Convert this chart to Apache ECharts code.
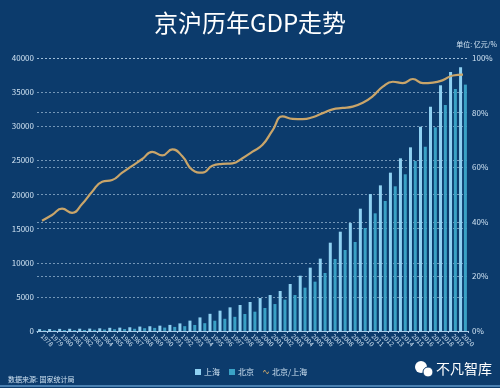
<!DOCTYPE html>
<html>
<head>
<meta charset="utf-8">
<script src="https://cdn.jsdelivr.net/npm/echarts@6/dist/echarts.min.js"></script>
<style>
html,body{margin:0;padding:0;background:#0c3b6c;}
#c{width:500px;height:388px;}
</style>
</head>
<body>
<div id="c"></div>
<script>
const years = [];
for (let y = 1978; y <= 2020; y++) years.push(String(y));

const shanghai = [273, 286, 312, 325, 337, 352, 391, 467, 491, 545, 648, 697, 782, 894, 1114, 1519, 1991, 2518, 2981, 3465,
  3810, 4250, 4830, 5270, 5860, 6890, 8100, 9280, 10600, 12940, 14550, 15820, 17920, 20070, 21340, 23200, 25300, 26910, 29930, 32860, 36000, 37950, 38650];
const beijing = [109, 120, 139, 139, 155, 183, 217, 257, 285, 327, 410, 456, 501, 599, 709, 886, 1145, 1508, 1789, 2077,
  2490, 2830, 3370, 3950, 4590, 5270, 6350, 7230, 8500, 10550, 11870, 13040, 15090, 17240, 19050, 21200, 22960, 24910, 27000, 29840, 33110, 35460, 36100];
const ratio = [40.4, 42.5, 44.8, 43.3, 46.5, 51.0, 54.7, 55.3, 58.0, 60.5, 63.0, 65.6, 64.3, 66.5, 64.0, 59.0, 58.0, 60.5, 61.2, 61.4,
  63.3, 65.7, 68.2, 73.5, 78.6, 77.7, 77.6, 78.3, 79.8, 81.2, 81.7, 82.2, 83.6, 86.0, 89.5, 91.3, 90.8, 92.3, 90.8, 91.0, 91.9, 93.6, 93.9];

const font = '"Noto Sans CJK SC", "Noto Sans", sans-serif';
const lblColor = '#cfe2f2';
const chart = echarts.init(document.getElementById('c'), null, {renderer: 'canvas'});
chart.setOption({
  backgroundColor: '#0c3b6c',
  animation: false,
  textStyle: {fontFamily: font},
  title: {
    text: '京沪历年GDP走势',
    left: 'center',
    top: 6,
    textStyle: {color: '#ffffff', fontSize: 24, fontWeight: 'normal', fontFamily: font}
  },
  legend: {
    left: 190,
    top: 363,
    itemWidth: 6,
    itemHeight: 6,
    itemGap: 9,
    textStyle: {color: lblColor, fontSize: 8, fontFamily: font, padding: [0, 0, 0, -2]},
    data: [
      {name: '上海', icon: 'rect'},
      {name: '北京', icon: 'rect'},
      {name: '北京/上海', icon: 'path://M0,6 C3,0 6,0 8,5 C10,10 13,10 16,4 L16,7 C13,13 10,13 8,8 C6,3 3,3 0,9 Z', itemStyle: {color: '#c9a56a'}}
    ]
  },
  grid: {left: 37, right: 32, top: 58, bottom: 57},
  xAxis: {
    type: 'category',
    data: years,
    axisLine: {lineStyle: {color: '#a9cbe6', width: 1}},
    axisTick: {show: true, interval: 0, length: 2, lineStyle: {color: '#a9cbe6'}},
    axisLabel: {interval: 0, rotate: -45, color: lblColor, fontSize: 6.5, margin: 4, fontFamily: font}
  },
  yAxis: [
    {
      type: 'value', min: 0, max: 40000, interval: 5000,
      axisLine: {show: false}, axisTick: {show: false},
      axisLabel: {color: lblColor, fontSize: 8, margin: 3, fontFamily: font, formatter: function (v) { return String(v); }},
      splitLine: {lineStyle: {color: 'rgba(200,225,245,0.55)', type: [2, 2], width: 1}}
    },
    {
      type: 'value', min: 0, max: 100, interval: 20,
      axisLine: {show: false}, axisTick: {show: false},
      axisLabel: {color: lblColor, fontSize: 8, margin: 4, formatter: '{value}%', fontFamily: font},
      splitLine: {lineStyle: {color: 'rgba(200,225,245,0.55)', type: [2, 2], width: 1}}
    }
  ],
  series: [
    {name: '上海', type: 'bar', data: shanghai, barWidth: 3, barGap: '60%', itemStyle: {color: '#8fd1f2'}},
    {name: '北京', type: 'bar', data: beijing, barWidth: 3, itemStyle: {color: '#3aa2c6'}},
    {name: '北京/上海', type: 'line', yAxisIndex: 1, data: ratio, smooth: true, showSymbol: false,
     lineStyle: {color: '#c9a56a', width: 2.2}, itemStyle: {color: '#c9a56a'}, z: 5}
  ],
  graphic: [
    {type: 'text', right: 3, top: 41, style: {text: '单位: 亿元/%', fill: lblColor, font: '7px ' + font}},
    {type: 'text', left: 8, top: 376, style: {text: '数据来源: 国家统计局', fill: lblColor, font: '7px ' + font}},
    {type: 'line', shape: {x1: 0, y1: 386, x2: 500, y2: 386}, style: {stroke: '#5f98c8', lineWidth: 1.5}},
    {type: 'circle', shape: {cx: 421, cy: 367, r: 6}, style: {fill: '#ffffff'}},
    {type: 'circle', shape: {cx: 428, cy: 372, r: 5}, style: {fill: '#ffffff', stroke: '#0c3b6c', lineWidth: 1}},
    {type: 'text', left: 436, top: 362, style: {text: '不凡智库', fill: '#ffffff', font: '14px ' + font}}
  ]
});
</script>
</body>
</html>
